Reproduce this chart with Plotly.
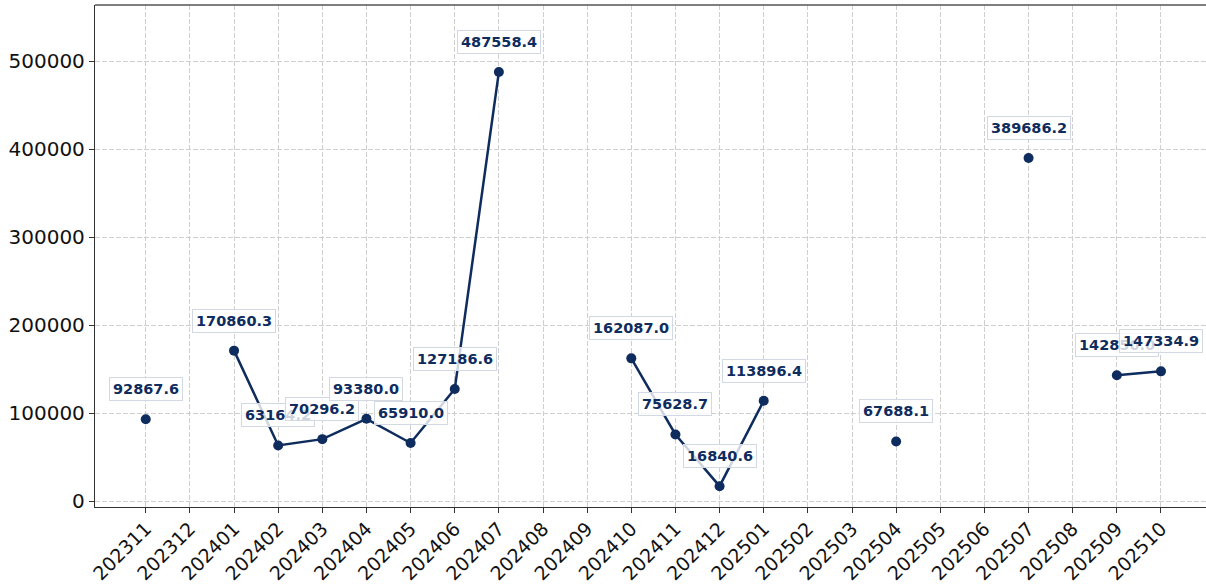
import plotly.graph_objects as go

# Monthly values (None = no data for that month)
months = ["202311", "202312", "202401", "202402", "202403", "202404", "202405",
          "202406", "202407", "202408", "202409", "202410", "202411", "202412",
          "202501", "202502", "202503", "202504", "202505", "202506", "202507",
          "202508", "202509", "202510"]
values = [92867.6, None, 170860.3, 63164.2, 70296.2, 93380.0, 65910.0,
          127186.6, 487558.4, None, None, 162087.0, 75628.7, 16840.6,
          113896.4, None, None, 67688.1, None, None, 389686.2,
          None, 142850.0, 147334.9]
y_ticks = [0, 100000, 200000, 300000, 400000, 500000]

navy = "#0e2c5e"
font_family = "DejaVu Sans"

fig = go.Figure()
fig.add_trace(go.Scatter(
    x=list(range(len(months))), y=values,
    mode="lines+markers",
    line=dict(color=navy, width=2.5),
    marker=dict(color=navy, size=10),
    connectgaps=False,
    hoverinfo="skip",
))

for i, v in enumerate(values):
    if v is None:
        continue
    fig.add_annotation(
        x=i, y=v, text=f"<b>{v:.1f}</b>",
        showarrow=False, yshift=30,
        font=dict(family=font_family, size=14.5, color=navy),
        bgcolor="rgba(255,255,255,0.8)",
        bordercolor="#d3d9e2", borderwidth=1, borderpad=3,
    )

axis_common = dict(
    showgrid=True, gridcolor="#cfcfcf", gridwidth=1, griddash="5px,2px",
    showline=True, linecolor="#333333", linewidth=1.3,
    ticks="outside", ticklen=5, tickcolor="#333333",
    zeroline=False, automargin=False,
)

fig.update_xaxes(
    **axis_common,
    tickfont=dict(family=font_family, size=19, color="#111111"),
    ticklabelstandoff=-3,
    tickmode="array", tickvals=list(range(len(months))), ticktext=months,
    tickangle=-45, range=[-1.15, 24.02], mirror=False,
)
fig.update_yaxes(
    **axis_common,
    tickfont=dict(family=font_family, size=20, color="#111111"),
    tickmode="array", tickvals=y_ticks, ticktext=[str(t) for t in y_ticks],
    range=[-6818, 563636],
)

# top frame line
fig.add_shape(type="line", xref="paper", yref="paper", x0=0, x1=1, y0=1, y1=1,
              line=dict(color="#555555", width=1.5))

fig.update_layout(
    width=1206, height=585,
    margin=dict(l=95, r=0, t=5, b=78),
    plot_bgcolor="white", paper_bgcolor="white",
    showlegend=False,
    font=dict(family=font_family),
)

fig.write_html("out.html")
